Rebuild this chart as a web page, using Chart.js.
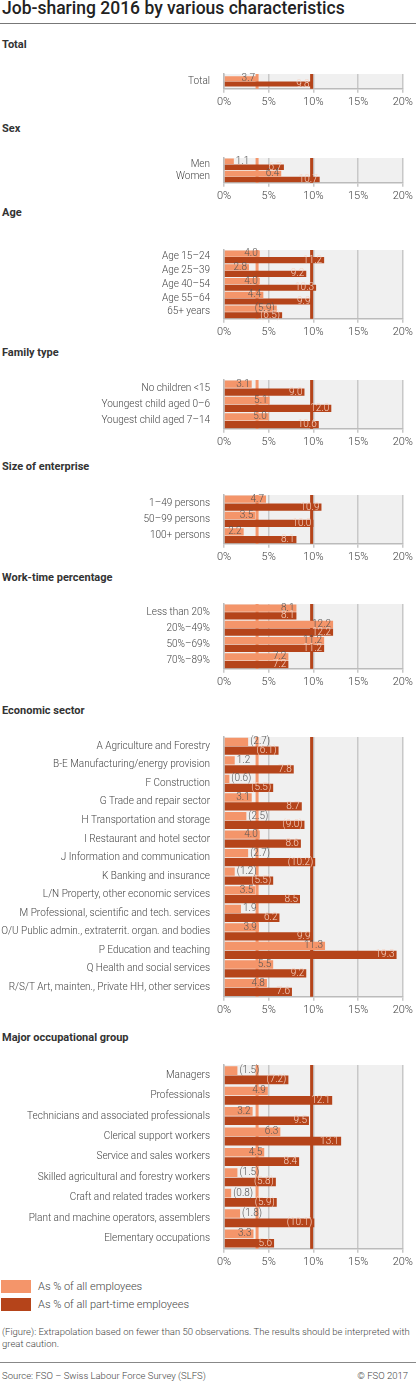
<!DOCTYPE html>
<html>
<head>
<meta charset="utf-8">
<script src="https://cdn.jsdelivr.net/npm/chart.js@4"></script>
<style>
  body { margin: 0; width: 416px; height: 1382px; background: #fff; font-family: Roboto, sans-serif; position: relative; overflow: hidden; }
  .abs { position: absolute; }
  h1 { position: absolute; left: 2px; top: -2px; margin: 0; font-size: 17.5px; font-weight: 500; color: #222; }
  .rule { position: absolute; left: 0; width: 416px; height: 1px; background: #777; }
  .hd { position: absolute; left: 2px; font-size: 11px; font-weight: 700; color: #333; }
  .txt { position: absolute; left: 2px; font-size: 9.5px; font-weight: 300; color: #444; }
  .sw { position: absolute; left: 1px; width: 30px; height: 13px; }
</style>
</head>
<body>
<h1>Job-sharing 2016 by various characteristics</h1>
<div class="rule" style="top:23px"></div>
<div id="charts"></div>
<div class="sw" style="top:1280px;background:#f4956a"></div>
<div class="txt" style="top:1280px;left:38px;font-size:11px">As % of all employees</div>
<div class="sw" style="top:1298px;background:#b5441a"></div>
<div class="txt" style="top:1298px;left:38px;font-size:11px">As % of all part-time employees</div>
<div class="txt" style="top:1326px;width:410px;line-height:12px">(Figure): Extrapolation based on fewer than 50 observations. The results should be interpreted with great caution.</div>
<div class="rule" style="top:1362px;background:#888"></div>
<div class="txt" style="top:1370px">Source: FSO – Swiss Labour Force Survey (SLFS)</div>
<div class="txt" style="top:1370px;left:auto;right:8px">© FSO 2017</div>
<script>
const ticksPct = ['0%', '5%', '10%', '15%', '20%'];
const totalLineEmp = 3.7;
const totalLinePart = 9.8;

const totalLabels = ['Total'];
const totalEmp = [3.7];
const totalPart = [9.8];
const totalFlags = [[false], [false]];

const sexLabels = ['Men', 'Women'];
const sexEmp = [1.1, 6.4];
const sexPart = [6.7, 10.7];
const sexFlags = [[false, false], [false, false]];

const ageLabels = ['Age 15–24', 'Age 25–39', 'Age 40–54', 'Age 55–64', '65+ years'];
const ageEmp = [4.0, 2.8, 4.0, 4.4, 5.9];
const agePart = [11.2, 9.2, 10.3, 9.9, 6.5];
const ageFlags = [[false, false, false, false, true], [false, false, false, false, true]];

const famLabels = ['No children <15', 'Youngest child aged 0–6', 'Yougest child aged 7–14'];
const famEmp = [3.1, 5.1, 5.0];
const famPart = [9.0, 12.0, 10.6];
const famFlags = [[false, false, false], [false, false, false]];

const sizeLabels = ['1–49 persons', '50–99 persons', '100+ persons'];
const sizeEmp = [4.7, 3.5, 2.2];
const sizePart = [10.9, 10.0, 8.1];
const sizeFlags = [[false, false, false], [false, false, false]];

const workLabels = ['Less than 20%', '20%–49%', '50%–69%', '70%–89%'];
const workEmp = [8.1, 12.2, 11.2, 7.2];
const workPart = [8.1, 12.2, 11.2, 7.2];
const workFlags = [[false, false, false, false], [false, false, false, false]];

const econLabels = ['A Agriculture and Forestry', 'B-E Manufacturing/energy provision', 'F Construction',
  'G Trade and repair sector', 'H Transportation and storage', 'I Restaurant and hotel sector',
  'J Information and communication', 'K Banking and insurance', 'L/N Property, other economic services',
  'M Professional, scientific and tech. services', 'O/U Public admin., extraterrit. organ. and bodies',
  'P Education and teaching', 'Q Health and social services', 'R/S/T Art, mainten., Private HH, other services'];
const econEmp = [2.7, 1.2, 0.6, 3.1, 2.5, 4.0, 2.7, 1.2, 3.5, 1.9, 3.9, 11.3, 5.5, 4.8];
const econPart = [6.1, 7.8, 5.5, 8.7, 9.0, 8.6, 10.2, 5.5, 8.5, 6.2, 9.9, 19.3, 9.2, 7.6];
const econFlags = [
  [true, false, true, false, true, false, true, true, false, false, false, false, false, false],
  [true, false, true, false, true, false, true, true, false, false, false, false, false, false]];

const occLabels = ['Managers', 'Professionals', 'Technicians and associated professionals', 'Clerical support workers',
  'Service and sales workers', 'Skilled agricultural and forestry workers', 'Craft and related trades workers',
  'Plant and machine operators, assemblers', 'Elementary occupations'];
const occEmp = [1.5, 4.9, 3.2, 6.3, 4.5, 1.5, 0.8, 1.8, 3.3];
const occPart = [7.2, 12.1, 9.5, 13.1, 8.4, 5.8, 5.9, 10.1, 5.6];
const occFlags = [
  [true, false, false, false, false, true, true, true, false],
  [true, false, false, false, false, true, true, true, false]];

const sections = [
  { title: 'Total', hy: 38, top: 62, box: 28, labels: totalLabels, emp: totalEmp, part: totalPart, flags: totalFlags },
  { title: 'Sex', hy: 122, top: 146, box: 38, labels: sexLabels, emp: sexEmp, part: sexPart, flags: sexFlags },
  { title: 'Age', hy: 206, top: 238, box: 82, labels: ageLabels, emp: ageEmp, part: agePart, flags: ageFlags },
  { title: 'Family type', hy: 346, top: 368, box: 62, labels: famLabels, emp: famEmp, part: famPart, flags: famFlags },
  { title: 'Size of enterprise', hy: 460, top: 483, box: 62, labels: sizeLabels, emp: sizeEmp, part: sizePart, flags: sizeFlags },
  { title: 'Work-time percentage', hy: 571, top: 592, box: 78, labels: workLabels, emp: workEmp, part: workPart, flags: workFlags },
  { title: 'Economic sector', hy: 704, top: 725, box: 273, labels: econLabels, emp: econEmp, part: econPart, flags: econFlags },
  { title: 'Major occupational group', hy: 1031, top: 1053, box: 197, labels: occLabels, emp: occEmp, part: occPart, flags: occFlags }
];

const bgPlugin = {
  id: 'bg',
  beforeDraw(chart) {
    const a = chart.chartArea, c = chart.ctx;
    c.save(); c.fillStyle = '#f0f0f0'; c.fillRect(a.left, a.top, a.right - a.left, a.bottom - a.top); c.restore();
  },
  beforeDatasetsDraw(chart) {
    const a = chart.chartArea, c = chart.ctx, x = chart.scales.x;
    c.save(); c.lineWidth = 3;
    c.strokeStyle = '#f4956a';
    c.beginPath(); c.moveTo(x.getPixelForValue(totalLineEmp), a.top); c.lineTo(x.getPixelForValue(totalLineEmp), a.bottom); c.stroke();
    c.strokeStyle = '#b5441a';
    c.beginPath(); c.moveTo(x.getPixelForValue(totalLinePart), a.top); c.lineTo(x.getPixelForValue(totalLinePart), a.bottom); c.stroke();
    c.restore();
  },
  afterDatasetsDraw(chart, args, opts) {
    const c = chart.ctx;
    c.save(); c.font = '300 10px Roboto'; c.textBaseline = 'middle';
    chart.data.datasets.forEach((ds, di) => {
      chart.getDatasetMeta(di).data.forEach((bar, i) => {
        let t = ds.data[i].toFixed(1);
        if (opts.flags[di][i]) t = '(' + t + ')';
        const w = c.measureText(t).width;
        if (bar.x - bar.base > w + 4) {
          c.textAlign = 'right'; c.fillStyle = di === 0 ? '#555' : '#f6d5c6';
          c.fillText(t, bar.x - 2, bar.y);
        } else {
          c.textAlign = 'left'; c.fillStyle = '#555';
          c.fillText(t, bar.x + 2, bar.y);
        }
      });
    });
    c.restore();
  }
};

const holder = document.getElementById('charts');
sections.forEach(s => {
  const h = document.createElement('div');
  h.className = 'hd'; h.style.top = s.hy + 'px'; h.textContent = s.title;
  holder.appendChild(h);
  const wrap = document.createElement('div');
  wrap.className = 'abs';
  wrap.style.left = '0px'; wrap.style.top = s.top + 'px';
  wrap.style.width = '416px'; wrap.style.height = (s.box + 22) + 'px';
  const cv = document.createElement('canvas');
  wrap.appendChild(cv); holder.appendChild(wrap);
  const rowH = s.box / s.labels.length;
  new Chart(cv, {
    type: 'bar',
    data: {
      labels: s.labels,
      datasets: [
        { label: 'As % of all employees', data: s.emp, backgroundColor: '#f4956a' },
        { label: 'As % of all part-time employees', data: s.part, backgroundColor: '#b5441a' }
      ]
    },
    options: {
      indexAxis: 'y', responsive: true, maintainAspectRatio: false, animation: false,
      categoryPercentage: Math.min(0.96, 20 / rowH), barPercentage: 0.93,
      layout: { padding: { left: 0, right: 11, top: 0, bottom: 0 } },
      plugins: { legend: { display: false }, tooltip: { enabled: false }, bg: { flags: s.flags } },
      scales: {
        x: {
          min: 0, max: 20,
          grid: { color: '#c8c8c8', lineWidth: 1.5, tickLength: 4 },
          border: { color: '#bbb', width: 1.5 },
          ticks: { stepSize: 5, color: '#444', font: { family: 'Roboto', size: 11, weight: 300 },
            callback: (v, i) => ticksPct[i], maxRotation: 0 }
        },
        y: {
          grid: { display: false },
          border: { color: '#bbb', width: 1.5 },
          afterFit: sc => { sc.width = 224; },
          ticks: { color: '#444', padding: 6, autoSkip: false, font: { family: 'Roboto', size: 10, weight: 300 } }
        }
      }
    },
    plugins: [bgPlugin]
  });
});
</script>
</body>
</html>
